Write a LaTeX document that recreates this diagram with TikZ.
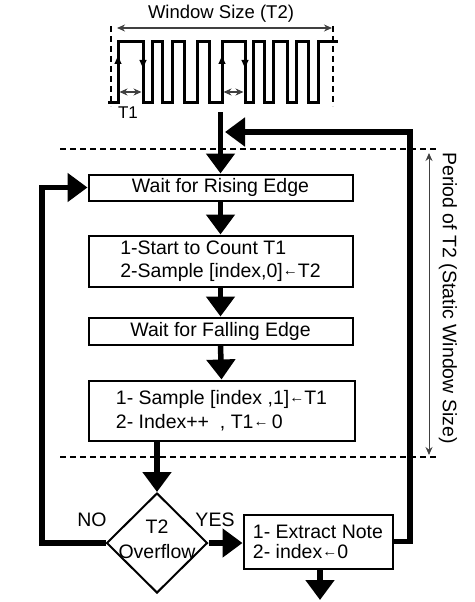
\documentclass[tikz,border=0pt]{standalone}
\usepackage{fontspec}
\setmainfont{Liberation Sans}
\usetikzlibrary{arrows.meta,shapes.geometric}
\newcommand{\smallarr}{\raisebox{1.5pt}{\fontsize{15}{15}\selectfont ←}}
\begin{document}
\begin{tikzpicture}[x=1pt,y=-1pt,
  txt/.style={font=\fontsize{19.5}{23}\selectfont},
  box/.style={draw,line width=2pt,inner sep=0pt,txt},
  flow/.style={line width=5.5pt,-{Triangle[width=28pt,length=20pt]}},
  wave/.style={line width=3pt,line join=miter},
  dim/.style={line width=1.3pt,draw=black!75,{Stealth[length=8pt,width=7pt]}-{Stealth[length=8pt,width=7pt]}},
  guide/.style={line width=1.3pt,dash pattern=on 6pt off 4pt},
  edgetip/.style={line width=1pt,-{Triangle[length=8pt,width=7pt]}}]
\useasboundingbox (0,0) rectangle (474,602);
% waveform
\node[font=\fontsize{18.5}{20}\selectfont] (wintitle) at (221,14) {Window Size (T2)};
\draw[dim] (117,28) -- (332,28);
\draw[guide] (111,26) -- (111,106);
\draw[guide] (333,26) -- (333,106);
\draw[wave] (108,102) -- (118,102) -- (118,42) -- (143,42) -- (143,102) -- (152,102) -- (152,42) -- (162,42) -- (162,102) -- (172,102) -- (172,42) -- (184,42) -- (184,102) -- (197,102) -- (197,42) -- (209,42) -- (209,102) -- (222,102) -- (222,42) -- (245,42) -- (245,102) -- (253,102) -- (253,42) -- (264,42) -- (264,102) -- (273,102) -- (273,42) -- (287,42) -- (287,102) -- (296,102) -- (296,42) -- (308,42) -- (308,102) -- (318,102) -- (318,42) -- (338,42);
\draw[edgetip] (118,72) -- (118,56);
\draw[edgetip] (222,72) -- (222,56);
\draw[edgetip] (143,52) -- (143,68);
\draw[edgetip] (245,52) -- (245,68);
\draw[dim,line width=1.2pt] (119.5,92) -- (141.5,92);
\draw[dim,line width=1.2pt] (223.5,92) -- (243.5,92);
\node[font=\fontsize{17}{19}\selectfont] (t1) at (128,113) {T1};
% guides
\draw[guide] (60,149) -- (438,149);
\draw[guide] (60,457) -- (438,457);
\draw[dim,line width=1pt] (429,153) -- (429,455);
\node[txt,rotate=-90] (period) at (448,298) {Period of T2 (Static Window Size)};
% boxes
\node[box,minimum width=264pt,minimum height=26pt] (box1) at (220.5,187.5) {Wait for Rising Edge};
\node[box,minimum width=264pt,minimum height=51pt,align=left] (box2) at (220.5,261) {1-Start to Count T1\\ 2-Sample [index,0]\smallarr T2};
\node[box,minimum width=264pt,minimum height=27pt] (box3) at (220.5,331) {Wait for Falling Edge};
\node[box,minimum width=266pt,minimum height=60pt,align=left,font=\fontsize{19.5}{24}\selectfont] (box4) at (221.5,410.5) {1- Sample [index ,1]\smallarr T1\\ 2- Index++\ \ , T1\smallarr\,0};
\node[draw,diamond,line width=2pt,minimum width=101pt,minimum height=100pt,inner sep=0pt] (dia) at (157,543) {};
\node[align=center,font=\fontsize{19.5}{25}\selectfont] (diatext) at (157,539) {T2\\Overflow};
\node[box,minimum width=149pt,minimum height=54pt,align=left,font=\fontsize{19.5}{20}\selectfont] (box5) at (318,541.5) {1- Extract Note\\ 2- index\smallarr 0};
\node[txt] (no) at (92,520) {NO};
\node[txt] (yes) at (215,520) {YES};
% connectors
\coordinate (wavebot) at (220.5,112);
\coordinate (fbtop) at (410,132);
\coordinate (fbend) at (225,132);
\coordinate (noc) at (42,543);
\coordinate (outc) at (320,600);
\draw[flow] (wavebot) -- (box1.north);
\draw[flow] (box1.south) -- (box2.north);
\draw[flow] (box2.south) -- (box3.north);
\draw[flow] (box3.south) -- (box4.north);
\draw[flow] (dia.north |- box4.south) -- (dia.north);
\draw[flow] (dia.east) -- (dia.east -| box5.west);
\draw[flow] (box5.east) -| (fbtop) -- (fbend);
\draw[flow] (dia.west) -- (noc) |- (box1.west);
\draw[flow] (outc |- box5.south) -- (outc);
\end{tikzpicture}
\end{document}
